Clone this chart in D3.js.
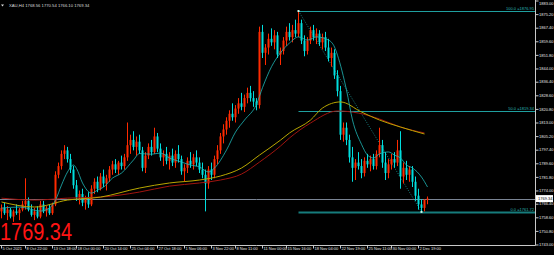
<!DOCTYPE html>
<html><head><meta charset="utf-8">
<script src="https://cdn.jsdelivr.net/npm/d3@7"></script>
<style>html,body{margin:0;padding:0;background:#000;overflow:hidden}svg{display:block}</style>
</head><body><svg id="c" width="554" height="255"></svg>
<script>
const symbolLabel = "XAU,H4";
const lastOHLC = [1768.56, 1770.54, 1766.10, 1769.34];
const currentPrice = 1769.34;
// [open, high, low, close]
const candles = [
[1762,1766,1758,1764],[1764,1767,1760,1761],[1761,1765,1757,1763],[1763,1764,1758,1759],
[1759,1763,1756,1762],[1762,1766,1760,1761],[1761,1764,1757,1763],[1763,1768,1762,1766],
[1766,1781,1763,1768],[1768,1770,1762,1763],[1763,1766,1759,1760],[1760,1764,1757,1762],
[1762,1765,1758,1759],[1759,1768,1758,1766],[1766,1768,1761,1762],[1762,1765,1759,1764],
[1764,1766,1760,1761],[1761,1767,1760,1766],[1766,1785,1765,1783],[1783,1790,1781,1788],
[1788,1797,1786,1795],[1795,1800,1792,1797],[1797,1799,1790,1792],[1792,1795,1784,1786],
[1786,1788,1775,1777],[1777,1780,1768,1770],[1770,1774,1766,1772],[1772,1775,1765,1767],
[1767,1771,1763,1769],[1769,1773,1764,1766],[1766,1777,1765,1775],[1775,1781,1772,1779],
[1779,1782,1773,1775],[1775,1784,1774,1782],[1782,1786,1776,1778],[1778,1783,1774,1781],
[1781,1788,1779,1786],[1786,1791,1783,1789],[1789,1792,1784,1786],[1786,1791,1783,1790],
[1790,1794,1786,1788],[1788,1795,1786,1793],[1793,1813,1791,1800],[1800,1806,1795,1803],
[1803,1808,1797,1799],[1799,1805,1794,1802],[1802,1806,1795,1797],[1797,1799,1785,1787],
[1787,1796,1784,1794],[1794,1801,1792,1799],[1799,1803,1794,1796],[1796,1810,1795,1805],
[1805,1807,1796,1798],[1798,1801,1791,1793],[1793,1797,1788,1795],[1795,1799,1789,1791],
[1791,1796,1786,1794],[1794,1798,1788,1790],[1790,1797,1787,1795],[1795,1800,1790,1792],
[1792,1794,1783,1785],[1785,1789,1779,1787],[1787,1793,1784,1791],[1791,1796,1787,1789],
[1789,1795,1786,1793],[1793,1797,1788,1790],[1790,1793,1784,1786],[1786,1790,1781,1783],
[1783,1786,1762,1778],[1778,1788,1775,1786],[1786,1790,1780,1783],[1783,1794,1781,1792],
[1792,1800,1789,1797],[1797,1807,1795,1805],[1805,1812,1801,1809],[1809,1816,1806,1814],
[1814,1820,1810,1818],[1818,1824,1814,1816],[1816,1823,1813,1821],[1821,1827,1818,1824],
[1824,1830,1820,1822],[1822,1829,1819,1827],[1827,1833,1824,1830],[1830,1834,1825,1827],
[1827,1831,1822,1825],[1825,1827,1820,1823],[1823,1868,1821,1865],[1865,1869,1850,1853],
[1853,1858,1846,1856],[1856,1864,1852,1861],[1861,1867,1857,1859],[1859,1866,1855,1863],
[1863,1865,1850,1852],[1852,1856,1846,1854],[1854,1862,1852,1860],[1860,1868,1857,1865],
[1865,1870,1860,1862],[1862,1869,1859,1866],[1866,1872,1862,1864],[1864,1876.95,1862,1870],
[1870,1872,1858,1860],[1860,1863,1851,1854],[1854,1862,1852,1860],[1860,1868,1858,1866],
[1866,1869,1860,1862],[1862,1867,1858,1864],[1864,1866,1857,1859],[1859,1864,1855,1862],
[1862,1865,1854,1856],[1856,1861,1848,1850],[1850,1856,1845,1853],[1853,1855,1838,1840],
[1840,1843,1828,1831],[1831,1834,1803,1806],[1806,1813,1802,1810],[1810,1813,1800,1803],
[1803,1806,1790,1793],[1793,1799,1779,1787],[1787,1792,1780,1790],[1790,1796,1786,1788],
[1788,1792,1781,1784],[1784,1793,1782,1791],[1791,1795,1787,1789],[1789,1794,1785,1792],
[1792,1795,1786,1788],[1788,1797,1786,1795],[1795,1810,1793,1800],[1800,1803,1787,1790],
[1790,1796,1780,1784],[1784,1792,1781,1789],[1789,1795,1786,1792],[1792,1796,1787,1790],
[1790,1803,1788,1797],[1797,1808,1775,1782],[1782,1790,1778,1787],[1787,1791,1780,1783],
[1783,1788,1779,1786],[1786,1788,1776,1779],[1779,1782,1768,1771],[1771,1775,1763,1766],
[1766,1769,1761.72,1764],[1764,1769,1762,1768.5],[1768.56,1770.54,1766.10,1769.34]
];
const timeLabels = ["5 Oct 2021","8 Oct 22:00","13 Oct 18:00","18 Oct 00:00","20 Oct 14:00","25 Oct 04:00","27 Oct 18:00","1 Nov 06:00","3 Nov 22:00","8 Nov 11:00","11 Nov 00:00","15 Nov 16:00","18 Nov 04:00","22 Nov 19:00","25 Nov 11:00","30 Nov 00:00","2 Dec 19:00"];
const timeLabelBars = [0,8,17,25,34,43,52,61,70,78,87,95,104,113,122,130,139];
const priceTicks = [1883.00,1875.20,1867.40,1859.60,1851.80,1844.00,1836.40,1828.60,1820.80,1813.00,1805.20,1797.40,1789.60,1781.80,1774.00,1766.40,1758.60,1750.80,1743.00];
// [bar index, value]
const maFast = [[0,1763.9],[6,1764.5],[13,1762.2],[16,1763.9],[18,1768.5],[20,1777.1],[22,1784.6],[24,1788.6],[25,1786.6],[27,1778.3],[30,1772.5],[32,1774.2],[34,1775.9],[37,1781.1],[40,1784.0],[44,1791.5],[46,1795.2],[50,1794.8],[53,1795.5],[56,1792.6],[60,1790.3],[63,1788.6],[66,1787.5],[69,1784.6],[71,1786.9],[75,1797.2],[78,1807.5],[81,1814.4],[85,1823.5],[87,1833],[90,1845],[93,1853],[96,1858.6],[99,1862.1],[102,1860.3],[105,1862.1],[109,1860.3],[111,1856.3],[112,1851.6],[115,1831.6],[117,1814.4],[120,1800.5],[122,1794.3],[124,1792.6],[126,1795.0],[129,1796.1],[131,1794.3],[133,1792.6],[135,1788.6],[137,1786.9],[140,1781.7],[142,1776.0]];
const maMid = [[0,1767.4],[11,1764.5],[22,1768.5],[33,1770.2],[46,1775.4],[56,1778.3],[66,1780.0],[73,1782.3],[80,1786.9],[86,1794.3],[93,1802.9],[96,1807.0],[103,1814.4],[107,1821.3],[113,1824.8],[120,1819.0],[126,1814.4],[133,1810.4],[141,1806.4]];
const maSlow = [[0,1769.6],[11,1768.5],[22,1769.6],[33,1770.2],[46,1773.1],[56,1776.5],[66,1778.3],[73,1780.0],[80,1783.4],[86,1790.3],[93,1799.5],[96,1804.1],[103,1812.7],[112,1819.6],[119,1818.4],[126,1815.0],[133,1810.4],[141,1807.0]];
const fibLevels = ["100.0","50.0","0.0"];
const fibPrices = [1876.95, 1819.34, 1761.72];
const fibStartBar = 99, fibEndBar = 140;

const svg = d3.select("#c");
svg.append("rect").attr("width",554).attr("height",255).attr("fill","#000");
const x = d3.scaleLinear().domain([0,178]).range([1,535]);
const y = d3.scaleLinear().domain([1743,1883]).range([244.5,0.5]);
const fontF = "'Liberation Sans', Arial, sans-serif";

// current price line
svg.append("line").attr("x1",0).attr("x2",535).attr("y1",Math.round(y(currentPrice))+0.5).attr("y2",Math.round(y(currentPrice))+0.5)
  .attr("stroke","#7a8494").attr("stroke-width",1);

// fibo
const fibColor = "#1f9f9f";
fibPrices.forEach((p,i)=>{
  const yy = Math.round(y(p))+0.5;
  svg.append("line").attr("x1",x(fibStartBar)+0.5).attr("x2",535).attr("y1",yy).attr("y2",yy)
    .attr("stroke", i===2?"#167c7c":fibColor).attr("stroke-width", i===2?2:1);
  svg.append("text").attr("x",534).attr("y",yy-1.5).attr("text-anchor","end")
    .attr("font-family",fontF).attr("font-size",4).attr("fill","#2ab5b5")
    .text(fibLevels[i]+" =" + p.toFixed(2));
});
svg.append("line").attr("x1",x(fibStartBar)+0.5).attr("y1",y(fibPrices[0])).attr("x2",x(fibEndBar)+0.5).attr("y2",y(fibPrices[2]))
  .attr("stroke",fibColor).attr("stroke-width",0.8).attr("stroke-dasharray","1,1.5");

// candles
const bull="#ff2a00", bear="#00dede";
const cg = svg.append("g");
candles.forEach((d,i)=>{
  const [o,h,l,c]=d; const col = c>=o?bull:bear; const cx = x(i)+0.5;
  cg.append("line").attr("x1",cx).attr("x2",cx).attr("y1",y(h)).attr("y2",y(l)).attr("stroke",col).attr("stroke-width",1);
  const top=y(Math.max(o,c)), bot=y(Math.min(o,c));
  cg.append("rect").attr("x",x(i)-0.5).attr("width",2).attr("y",top).attr("height",Math.max(1,bot-top)).attr("fill",col);
});

// moving averages
const line = d3.line().x(d=>x(d[0])+0.5).y(d=>y(d[1])).curve(d3.curveMonotoneX);
svg.append("path").datum(maSlow).attr("d",line).attr("fill","none").attr("stroke","#a0140f").attr("stroke-width",1);
svg.append("path").datum(maMid).attr("d",line).attr("fill","none").attr("stroke","#b8a600").attr("stroke-width",1);
svg.append("path").datum(maFast).attr("d",line).attr("fill","none").attr("stroke","#1fb8b8").attr("stroke-width",0.8);

// fibo anchor markers
[[fibStartBar,fibPrices[0]],[fibEndBar,fibPrices[2]]].forEach(p=>{
  svg.append("rect").attr("x",x(p[0])-0.5).attr("y",y(p[1])-1).attr("width",2).attr("height",2).attr("fill","#cfe");
});

// axes
const ya = svg.append("g").attr("transform","translate(535.5,0)")
  .call(d3.axisRight(y).tickValues(priceTicks).tickSize(3).tickSizeOuter(0).tickFormat(d3.format(".2f")));
ya.select(".domain").attr("stroke","#c8c8c8").attr("d","M0,0V245.5");
ya.selectAll(".tick line").attr("stroke","#c8c8c8");
ya.selectAll(".tick text").attr("fill","#e6e6e6").attr("font-family",fontF).attr("font-size",4).attr("x",3.5)
  .attr("dy",(d,i)=> i===0 ? "0.9em" : "0.32em");

const xa = svg.append("g").attr("transform","translate(0,245.5)")
  .call(d3.axisBottom(x).tickValues(timeLabelBars).tickSize(3).tickSizeOuter(0).tickFormat((d,i)=>timeLabels[i]));
xa.select(".domain").attr("stroke","#c8c8c8").attr("d","M0,0H535.5");
xa.selectAll(".tick line").attr("stroke","#c8c8c8");
xa.selectAll(".tick text").attr("fill","#e6e6e6").attr("font-family",fontF).attr("font-size",4)
  .attr("text-anchor","start").attr("x",1).attr("y",2).attr("dy","0.71em");

// current price box on axis
const cy = y(currentPrice);
svg.append("rect").attr("x",536).attr("y",cy-3.5).attr("width",17).attr("height",7).attr("fill","#fff");
svg.append("text").attr("x",538).attr("y",cy+1.5).attr("font-family",fontF).attr("font-size",4).attr("fill","#000").text(currentPrice.toFixed(2));

// header
svg.append("path").attr("d","M1,4.5L4,4.5L2.5,6.5Z").attr("fill","#ddd");
svg.append("text").attr("x",9).attr("y",7).attr("font-family",fontF).attr("font-size",4.2).attr("fill","#dcdcdc")
  .text(symbolLabel+"  "+lastOHLC.map(v=>v.toFixed(2)).join(" "));

// big price text
svg.append("text").attr("x",0).attr("y",240).attr("font-family",fontF).attr("font-size",23).attr("fill","#ff1414")
  .attr("textLength",72).attr("lengthAdjust","spacingAndGlyphs").text(currentPrice.toFixed(2));
</script></body></html>
